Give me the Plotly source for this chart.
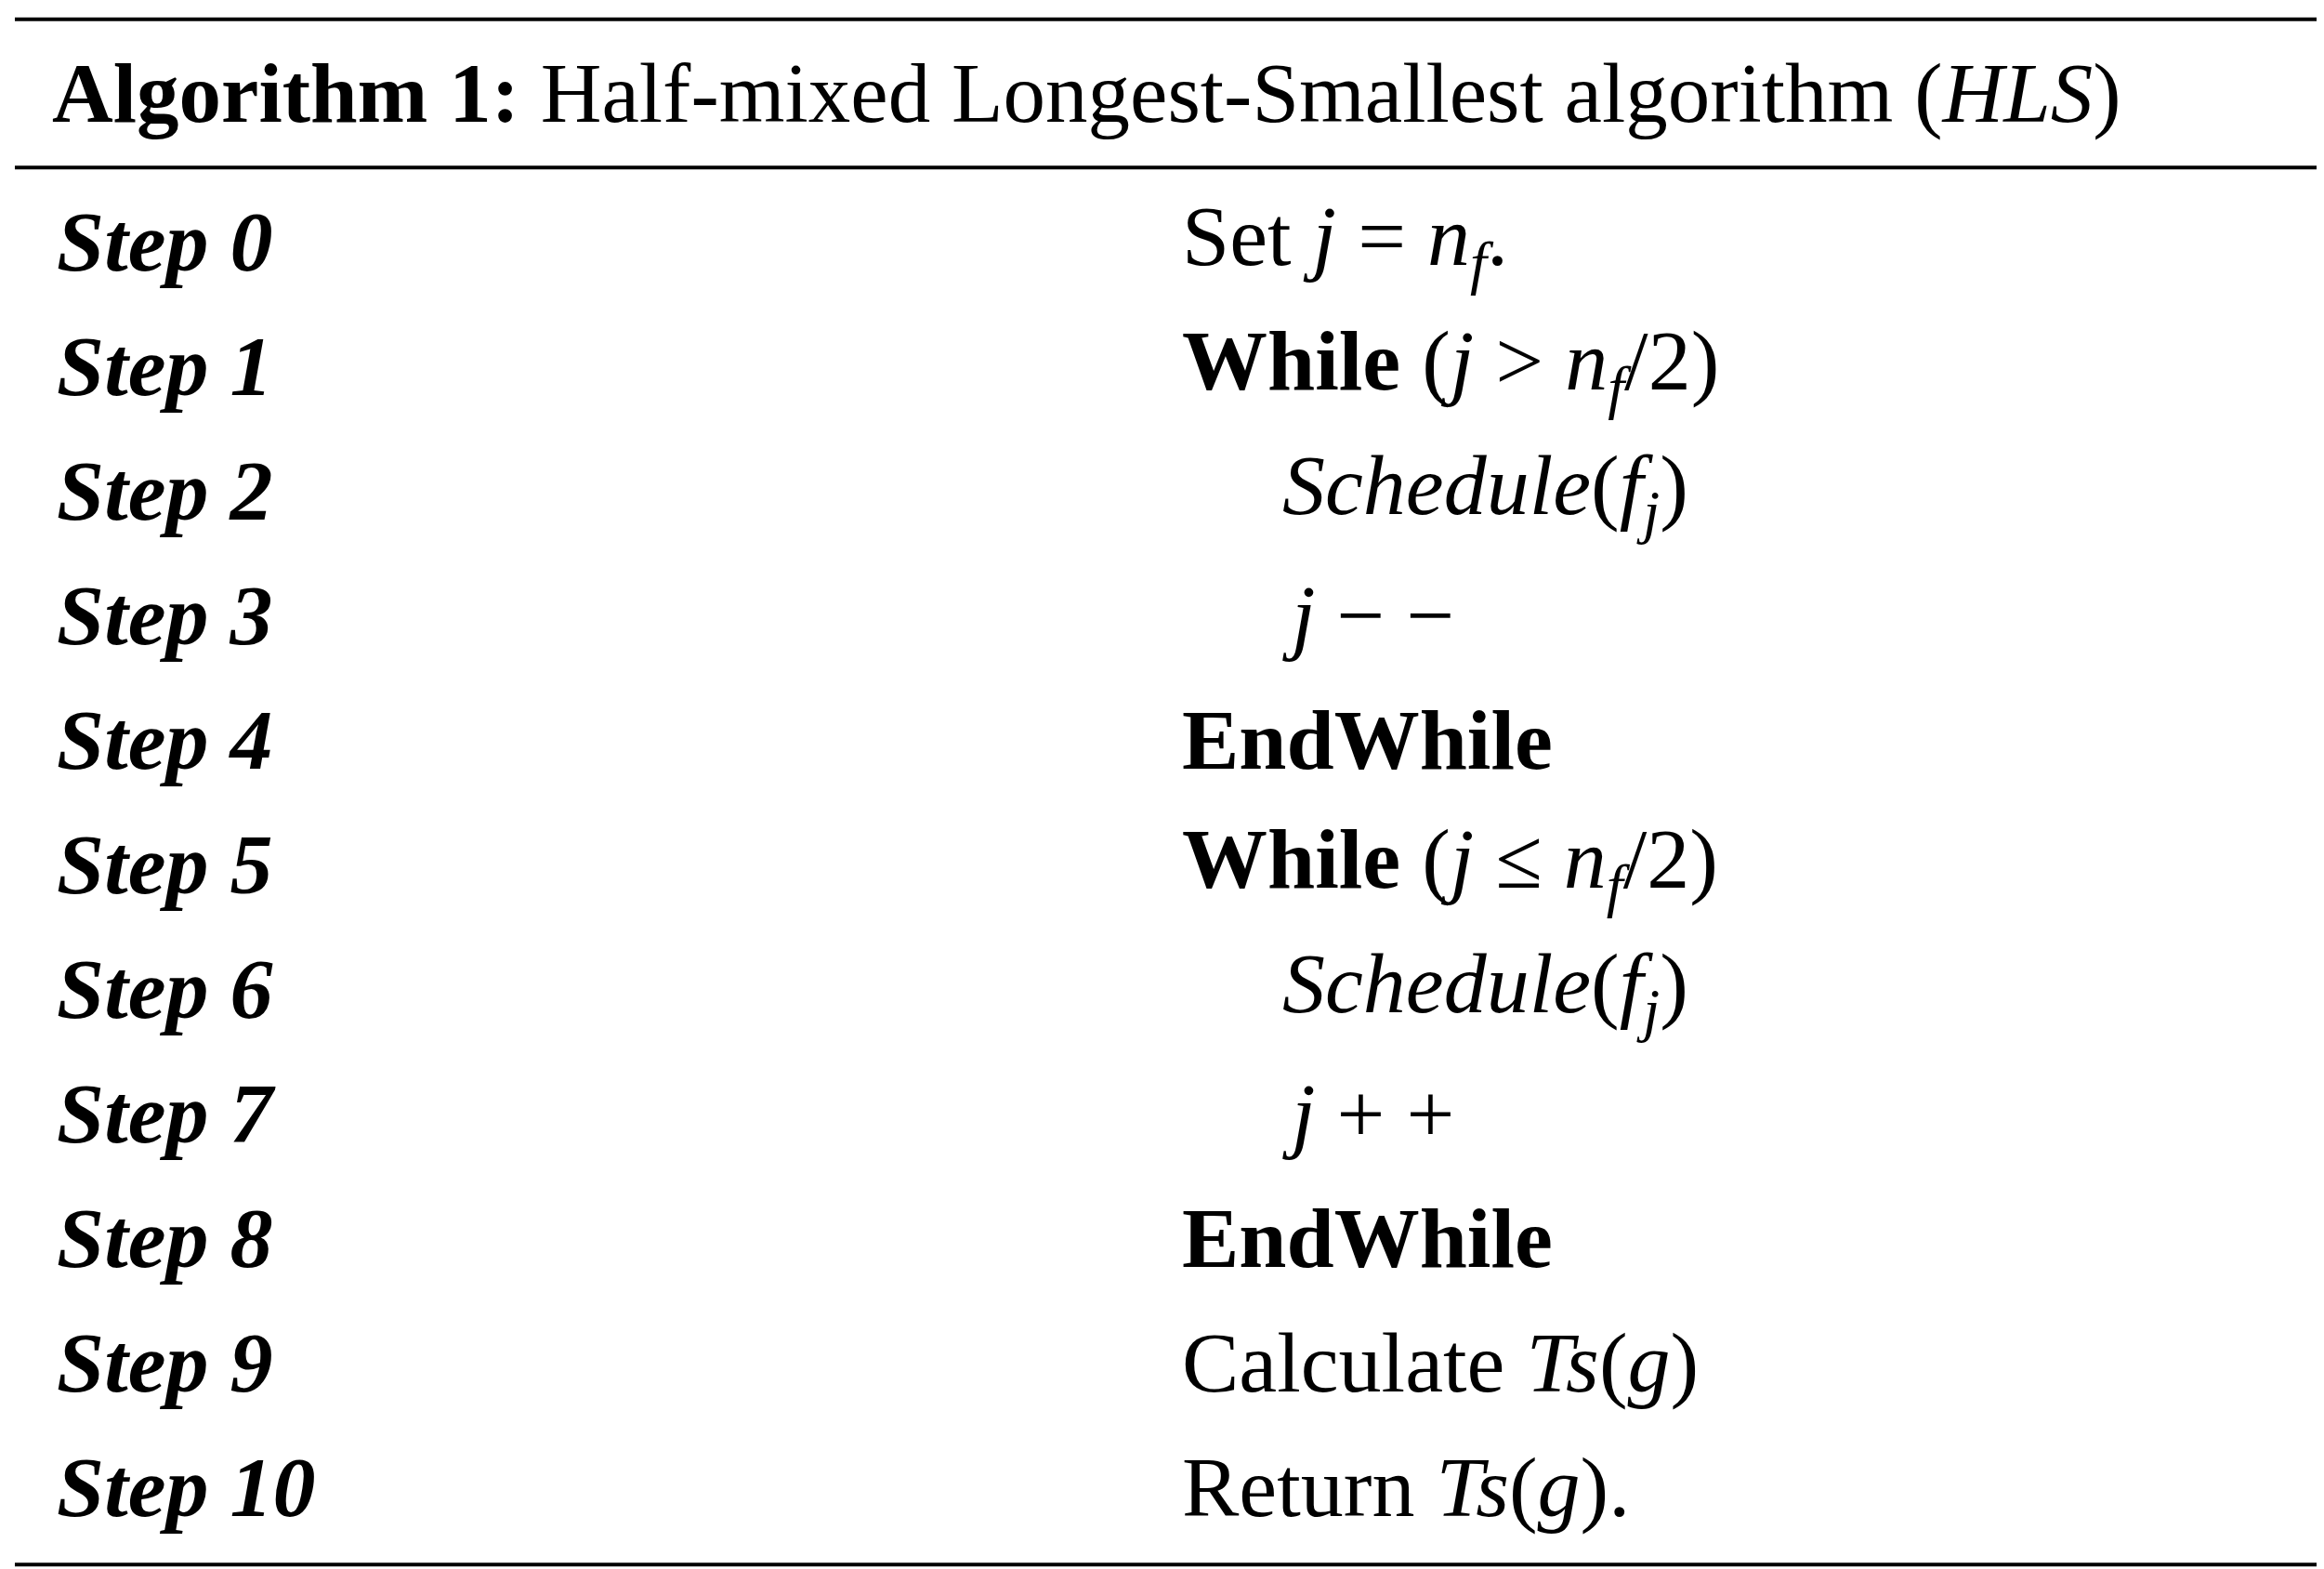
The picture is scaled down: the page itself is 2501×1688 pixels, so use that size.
import plotly.graph_objects as go

title = "<b>Algorithm 1:</b> Half-mixed Longest-Smallest algorithm (<i>HLS</i>)"
steps = ["Step 0", "Step 1", "Step 2", "Step 3", "Step 4", "Step 5",
         "Step 6", "Step 7", "Step 8", "Step 9", "Step 10"]
actions = [
    "Set <i>j</i> = <i>n<sub>f</sub></i>.",
    "<b>While</b> (<i>j</i> &gt; <i>n<sub>f</sub></i>/2)",
    "<i>Schedule</i>(<i>f<sub>j</sub></i>)",
    "<i>j</i> − −",
    "<b>EndWhile</b>",
    "<b>While</b> (<i>j</i> ≤ <i>n<sub>f</sub></i>/2)",
    "<i>Schedule</i>(<i>f<sub>j</sub></i>)",
    "<i>j</i> + +",
    "<b>EndWhile</b>",
    "Calculate <i>Ts</i>(<i>g</i>)",
    "Return <i>Ts</i>(<i>g</i>).",
]
indent = [0, 0, 1, 1, 0, 0, 1, 1, 0, 0, 0]

W, H = 1568, 1058
font = "Liberation Serif"
fs = 92

fig = go.Figure()
fig.add_annotation(x=29, y=58, text=title, showarrow=False, xanchor="left",
                   yanchor="middle", font=dict(family=font, size=91, color="black"))
for i, (s, a, ind) in enumerate(zip(steps, actions, indent)):
    y = 158 + 84 * i
    fig.add_annotation(x=32, y=y, text="<b><i>" + s + "</i></b>", showarrow=False,
                       xanchor="left", yanchor="middle",
                       font=dict(family=font, size=fs, color="black"))
    fig.add_annotation(x=791 + 68 * ind, y=y, text=a, showarrow=False,
                       xanchor="left", yanchor="middle",
                       font=dict(family=font, size=fs, color="black"))

for y in [8, 108, 1050]:
    fig.add_shape(type="line", x0=5, x1=1562, y0=y, y1=y,
                  line=dict(color="black", width=4))

fig.update_xaxes(range=[0, W], visible=False)
fig.update_yaxes(range=[H, 0], visible=False)
fig.update_layout(width=2501, height=1688, margin=dict(l=0, r=0, t=0, b=0),
                  plot_bgcolor="white", paper_bgcolor="white", showlegend=False)
fig.write_html("out.html")
